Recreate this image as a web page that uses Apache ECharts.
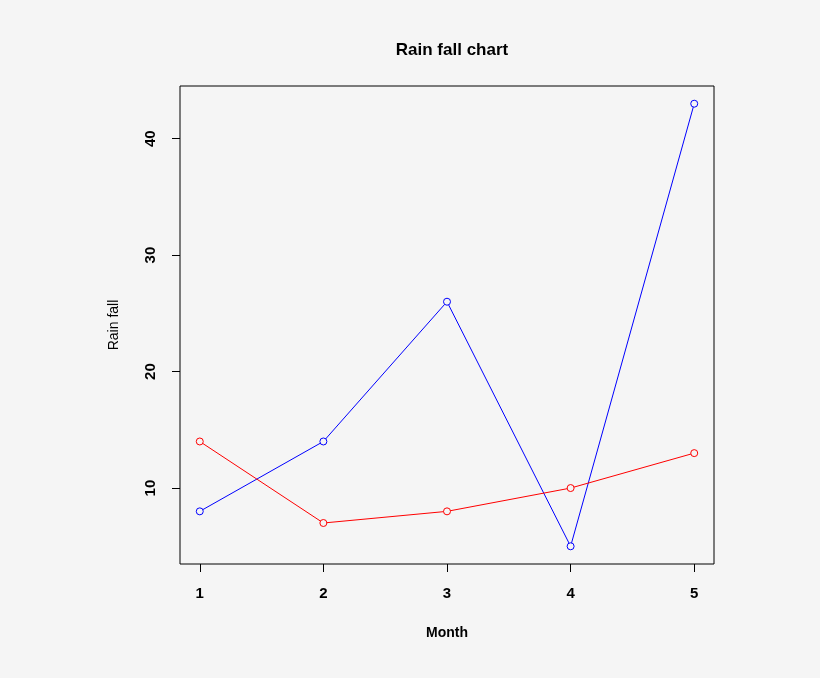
<!DOCTYPE html>
<html><head><meta charset="utf-8">
<script src="https://cdn.jsdelivr.net/npm/echarts@6/dist/echarts.min.js"></script>
<style>html,body{margin:0;padding:0;background:#f5f5f5;}#c{width:820px;height:678px;}</style>
</head><body><div id="c"></div>
<script>
const months = [1, 2, 3, 4, 5];
const blueValues = [8, 14, 26, 5, 43];
const redValues = [14, 7, 8, 10, 13];
const xTicks = [1, 2, 3, 4, 5];
const yTicks = [10, 20, 30, 40];

const chart = echarts.init(document.getElementById('c'));
const font = 'Liberation Sans, Arial, sans-serif';
chart.setOption({
  backgroundColor: '#f5f5f5',
  animation: false,
  title: {
    text: 'Rain fall chart', left: 447, top: 37, textAlign: 'center',
    textStyle: { fontFamily: font, fontSize: 17, fontWeight: 'bold', color: '#000' }
  },
  grid: { left: 180, top: 86, width: 534, height: 478, show: true, borderColor: '#000', borderWidth: 1, backgroundColor: 'transparent' },
  xAxis: {
    type: 'value', min: 0.84, max: 5.16,
    name: 'Month', nameLocation: 'middle', nameGap: 62,
    nameTextStyle: { fontFamily: font, fontSize: 14, fontWeight: 'bold', color: '#000' },
    axisLine: { show: false },
    splitLine: { show: false },
    axisTick: { show: true, inside: false, length: 8, customValues: xTicks, lineStyle: { color: '#000' } },
    axisLabel: { customValues: xTicks, margin: 22, fontFamily: font, fontSize: 15, fontWeight: 'bold', color: '#000' }
  },
  yAxis: {
    type: 'value', min: 3.48, max: 44.52,
    name: 'Rain fall', nameLocation: 'middle', nameGap: 59, nameRotate: 90,
    nameTextStyle: { fontFamily: font, fontSize: 14, color: '#000' },
    axisLine: { show: false },
    splitLine: { show: false },
    axisTick: { show: true, inside: false, length: 8, customValues: yTicks, lineStyle: { color: '#000' } },
    axisLabel: { customValues: yTicks, rotate: 90, margin: 29, fontFamily: font, fontSize: 15, fontWeight: 'bold', color: '#000', verticalAlign: 'middle', align: 'center' }
  },
  series: [
    {
      type: 'line', data: months.map((m, i) => [m, blueValues[i]]),
      symbol: 'circle', symbolSize: 7,
      lineStyle: { color: '#0000ff', width: 1 },
      itemStyle: { color: '#f5f5f5', borderColor: '#0000ff', borderWidth: 1 }
    },
    {
      type: 'line', data: months.map((m, i) => [m, redValues[i]]),
      symbol: 'circle', symbolSize: 7,
      lineStyle: { color: '#ff0000', width: 1 },
      itemStyle: { color: '#f5f5f5', borderColor: '#ff0000', borderWidth: 1 }
    }
  ]
});
</script></body></html>
